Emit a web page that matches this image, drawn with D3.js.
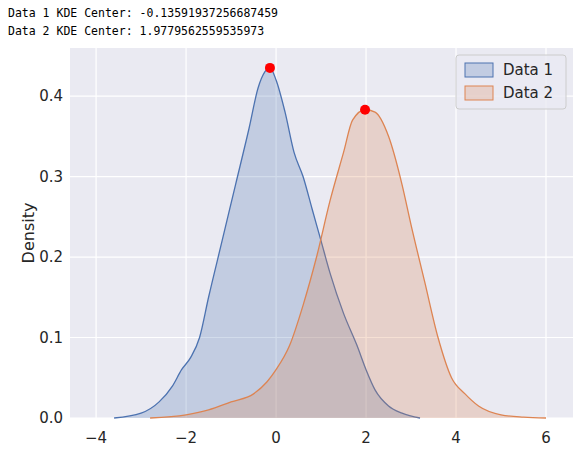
<!DOCTYPE html>
<html><head><meta charset="utf-8">
<script src="https://cdn.jsdelivr.net/npm/d3@7"></script>
<style>body{margin:0;background:#fff}text{font-family:"DejaVu Sans",sans-serif}</style>
</head><body><svg id="c" width="588" height="456"></svg>
<script>
// density curves
const data1X = [-3.6,-3.0,-2.6,-2.3,-2.1,-1.9,-1.7,-1.5,-1.2,-0.9,-0.6,-0.4,-0.25,-0.136,0,0.2,0.4,0.6,0.8,1.0,1.2,1.5,1.8,2.0,2.2,2.5,2.8,3.2];
const data1Y = [0,0.006,0.02,0.04,0.06,0.075,0.1,0.15,0.22,0.29,0.36,0.41,0.43,0.435,0.42,0.38,0.33,0.30,0.26,0.22,0.18,0.13,0.09,0.06,0.035,0.015,0.006,0];
const data2X = [-2.8,-2.0,-1.5,-1.0,-0.5,-0.2,0,0.3,0.6,0.9,1.2,1.5,1.7,1.98,2.2,2.5,2.8,3.0,3.3,3.6,3.9,4.2,4.5,5.0,5.5,6.0];
const data2Y = [0,0.004,0.01,0.02,0.03,0.045,0.06,0.09,0.14,0.2,0.27,0.33,0.37,0.383,0.38,0.35,0.29,0.24,0.17,0.1,0.05,0.03,0.015,0.004,0.001,0];
const centers = [[-0.13591937256687459, 0.435], [1.9779562559535973, 0.383]];
const labels = ["Data 1", "Data 2"];
const colors = ["#4c72b0", "#dd8452"];
const xTicks = [-4,-2,0,2,4,6];
const yTicks = [0,0.1,0.2,0.3,0.4];

const svg = d3.select("#c");
const x = d3.scaleLinear().domain([-4.58, 6.6]).range([70, 573]);
const y = d3.scaleLinear().domain([0, 0.4597]).range([418, 48]);

svg.append("text").attr("x", 8).attr("y", 17).style("font-family", "DejaVu Sans Mono")
    .style("font-size", "11.5px").text("Data 1 KDE Center: " + centers[0][0]);
svg.append("text").attr("x", 8).attr("y", 35).style("font-family", "DejaVu Sans Mono")
    .style("font-size", "11.5px").text("Data 2 KDE Center: " + centers[1][0]);

svg.append("rect").attr("x", 70).attr("y", 48).attr("width", 503).attr("height", 370).attr("fill", "#eaeaf2");
xTicks.forEach(t => svg.append("line").attr("x1", x(t)).attr("x2", x(t)).attr("y1", 48).attr("y2", 418)
    .attr("stroke", "#fff").attr("stroke-width", 1.2));
yTicks.forEach(t => svg.append("line").attr("x1", 70).attr("x2", 573).attr("y1", y(t)).attr("y2", y(t))
    .attr("stroke", "#fff").attr("stroke-width", 1.2));

xTicks.forEach(t => svg.append("text").attr("x", x(t)).attr("y", 443).attr("text-anchor", "middle")
    .style("font-size", "15px").attr("fill", "#262626").text(t.toString().replace("-", "\u2212")));
yTicks.forEach(t => svg.append("text").attr("x", 63).attr("y", y(t) + 5).attr("text-anchor", "end")
    .style("font-size", "15px").attr("fill", "#262626").text(t.toFixed(1)));
svg.append("text").attr("transform", "translate(34,233) rotate(-90)").attr("text-anchor", "middle")
    .style("font-size", "16px").attr("fill", "#262626").text("Density");

const series = [[data1X, data1Y], [data2X, data2Y]];
series.forEach(([xs, ys], i) => {
    const pts = xs.map((v, j) => [v, ys[j]]);
    svg.append("path").datum(pts)
        .attr("d", d3.area().x(d => x(d[0])).y0(y(0)).y1(d => y(d[1])).curve(d3.curveMonotoneX))
        .attr("fill", colors[i]).attr("fill-opacity", 0.25);
    svg.append("path").datum(pts)
        .attr("d", d3.line().x(d => x(d[0])).y(d => y(d[1])).curve(d3.curveMonotoneX))
        .attr("fill", "none").attr("stroke", colors[i]).attr("stroke-width", 1.3);
});
centers.forEach(c => svg.append("circle").attr("cx", x(c[0])).attr("cy", y(c[1])).attr("r", 5).attr("fill", "red"));

const lg = svg.append("g").attr("transform", "translate(456,55)");
lg.append("rect").attr("width", 110).attr("height", 54).attr("rx", 3).attr("fill", "#eaeaf2")
    .attr("stroke", "#ccc").attr("fill-opacity", 0.8);
labels.forEach((l, i) => {
    lg.append("rect").attr("x", 9).attr("y", 8 + i * 23).attr("width", 28).attr("height", 14)
        .attr("fill", colors[i]).attr("fill-opacity", 0.25).attr("stroke", colors[i]);
    lg.append("text").attr("x", 47).attr("y", 20 + i * 23).style("font-size", "15px")
        .attr("fill", "#262626").text(l);
});
</script></body></html>
